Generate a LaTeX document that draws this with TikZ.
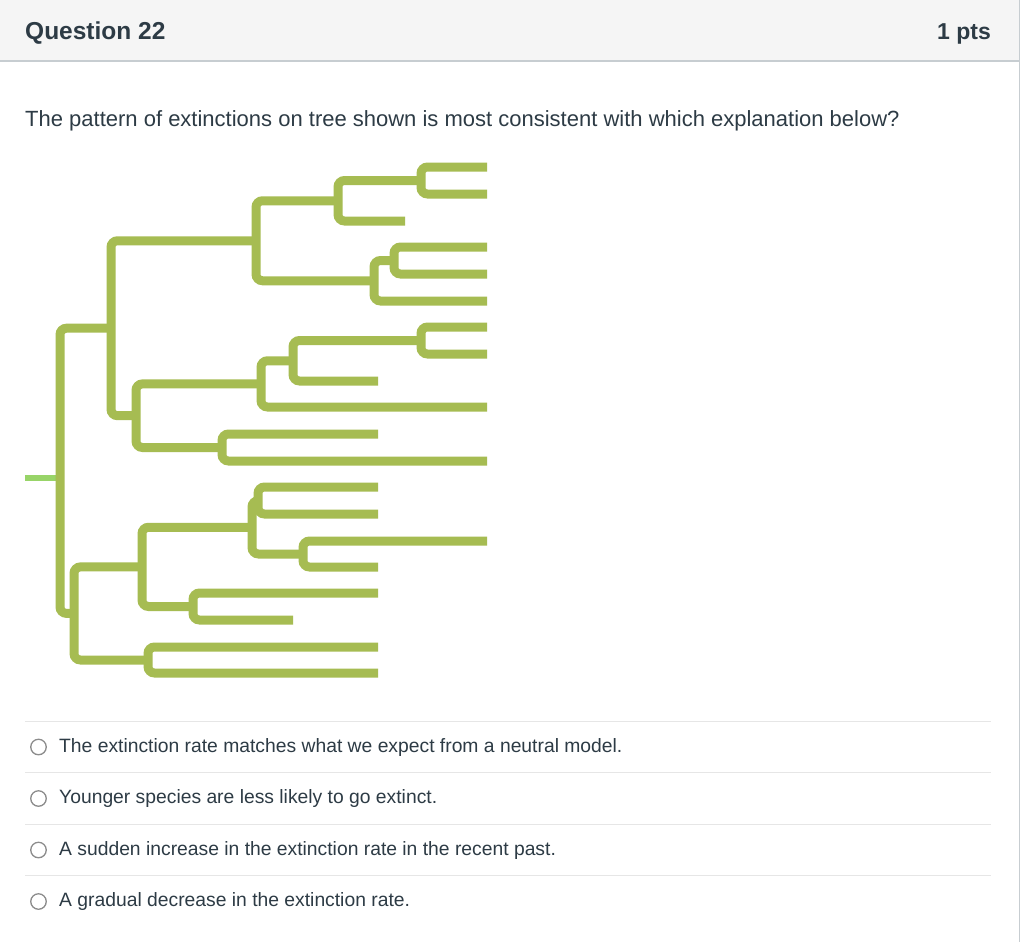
\documentclass[tikz,border=0pt]{standalone}
\usepackage{fontspec}
\setmainfont{Liberation Sans}
\definecolor{leaf}{RGB}{166,188,82}
\definecolor{stemgreen}{RGB}{152,212,104}
\definecolor{ink}{RGB}{45,59,69}
\definecolor{headbg}{RGB}{245,245,245}
\definecolor{edge}{RGB}{199,205,209}
\definecolor{sep}{RGB}{230,230,230}
\definecolor{radio}{RGB}{140,140,140}
\begin{document}
\begin{tikzpicture}[x=1pt,y=-1pt,
    branch/.style={draw=leaf,line width=9pt,rounded corners=6.5pt},
    stem/.style={draw=stemgreen,line width=6pt},
    radiobtn/.style={circle,draw=radio,line width=1.3pt,minimum size=15.5pt,inner sep=0pt},
    optlabel/.style={anchor=base west,inner sep=0pt,text=ink,font=\fontsize{19.3}{23}\selectfont}]
  \useasboundingbox[fill=white] (0,0) rectangle (1024,942);

  % header band
  \fill[headbg] (0,0) rectangle (1019,61);
  \draw[edge,line width=1.2pt] (0,61) -- (1019,61);
  \draw[edge,line width=1.2pt] (1019.5,0) -- (1019.5,942);
  \node[anchor=base west,inner sep=0pt,text=ink,font=\bfseries\fontsize{24.5}{29}\selectfont]
    (title) at (25,40) {Question 22};
  \node[anchor=base east,inner sep=0pt,text=ink,font=\bfseries\fontsize{23}{28}\selectfont]
    (pts) at (991,40) {1 pts};
  \node[anchor=base west,inner sep=0pt,text=ink,font=\fontsize{22}{26}\selectfont]
    (prompt) at (25,126) {The pattern of extinctions on tree shown is most consistent with which explanation below?};

  % tips and branching points
  \path
    (487,167) coordinate (t1)
    (487,194) coordinate (t2)
    (405,221) coordinate (t3)
    (487,247) coordinate (t4)
    (487,274) coordinate (t5)
    (487,301) coordinate (t6)
    (487,327) coordinate (t7)
    (487,354) coordinate (t8)
    (378,381) coordinate (t9)
    (487,407) coordinate (t10)
    (378,434) coordinate (t11)
    (487,461) coordinate (t12)
    (378,487) coordinate (t13)
    (378,514) coordinate (t14)
    (487,541) coordinate (t15)
    (378,567) coordinate (t16)
    (378,593) coordinate (t17)
    (293,620) coordinate (t18)
    (378,647) coordinate (t19)
    (378,673) coordinate (t20)
    (421,180.5) coordinate (n1)
    (338,200.75) coordinate (n2)
    (394,260.5) coordinate (n3)
    (374,280.75) coordinate (n4)
    (256,240.75) coordinate (n5)
    (421,340.5) coordinate (n6)
    (293,360.75) coordinate (n7)
    (261,383.9) coordinate (n8)
    (222,447.5) coordinate (n9)
    (136,415.7) coordinate (n10)
    (111,328.2) coordinate (n11)
    (258,500.5) coordinate (n12)
    (303,554) coordinate (n13)
    (252,527.25) coordinate (n14)
    (193,606.5) coordinate (n15)
    (142,566.9) coordinate (n16)
    (148,660) coordinate (n17)
    (74,613.4) coordinate (n18)
    (60,470.8) coordinate (n0)
    (25,478) coordinate (s);

  \draw[stem] (s) -- (n0 |- s);
  \begin{scope}[branch]
    \draw (t1) -- (n1 |- t1) -- (n1 |- t2) -- (t2);
    \draw (n1) -- (n2 |- n1) -- (n2 |- t3) -- (t3);
    \draw (t4) -- (n3 |- t4) -- (n3 |- t5) -- (t5);
    \draw (n3) -- (n4 |- n3) -- (n4 |- t6) -- (t6);
    \draw (n2) -- (n5 |- n2) -- (n5 |- n4) -- (n4);
    \draw (t7) -- (n6 |- t7) -- (n6 |- t8) -- (t8);
    \draw (n6) -- (n7 |- n6) -- (n7 |- t9) -- (t9);
    \draw (n7) -- (n8 |- n7) -- (n8 |- t10) -- (t10);
    \draw (t11) -- (n9 |- t11) -- (n9 |- t12) -- (t12);
    \draw (n8) -- (n10 |- n8) -- (n10 |- n9) -- (n9);
    \draw (n5) -- (n11 |- n5) -- (n11 |- n10) -- (n10);
    \draw (t13) -- (n12 |- t13) -- (n12 |- t14) -- (t14);
    \draw (t15) -- (n13 |- t15) -- (n13 |- t16) -- (t16);
    \draw (n12) -- (n14 |- n12) -- (n14 |- n13) -- (n13);
    \draw (t17) -- (n15 |- t17) -- (n15 |- t18) -- (t18);
    \draw (n14) -- (n16 |- n14) -- (n16 |- n15) -- (n15);
    \draw (t19) -- (n17 |- t19) -- (n17 |- t20) -- (t20);
    \draw (n16) -- (n18 |- n16) -- (n18 |- n17) -- (n17);
    \draw (n11) -- (n0 |- n11) -- (n0 |- n18) -- (n18);
  \end{scope}

  % answer choices
  \foreach \y in {721,772.5,824,875.5}
    \draw[sep,line width=1pt] (25,\y) -- (991,\y);
  \node[radiobtn] (r1) at (38.5,747) {};
  \node[radiobtn] (r2) at (38.5,798.5) {};
  \node[radiobtn] (r3) at (38.5,850) {};
  \node[radiobtn] (r4) at (38.5,901.5) {};
  \node[optlabel] (opt1) at (59,752) {The extinction rate matches what we expect from a neutral model.};
  \node[optlabel] (opt2) at (59,803.5) {Younger species are less likely to go extinct.};
  \node[optlabel] (opt3) at (59,855) {A sudden increase in the extinction rate in the recent past.};
  \node[optlabel] (opt4) at (59,906.5) {A gradual decrease in the extinction rate.};
\end{tikzpicture}
\end{document}
